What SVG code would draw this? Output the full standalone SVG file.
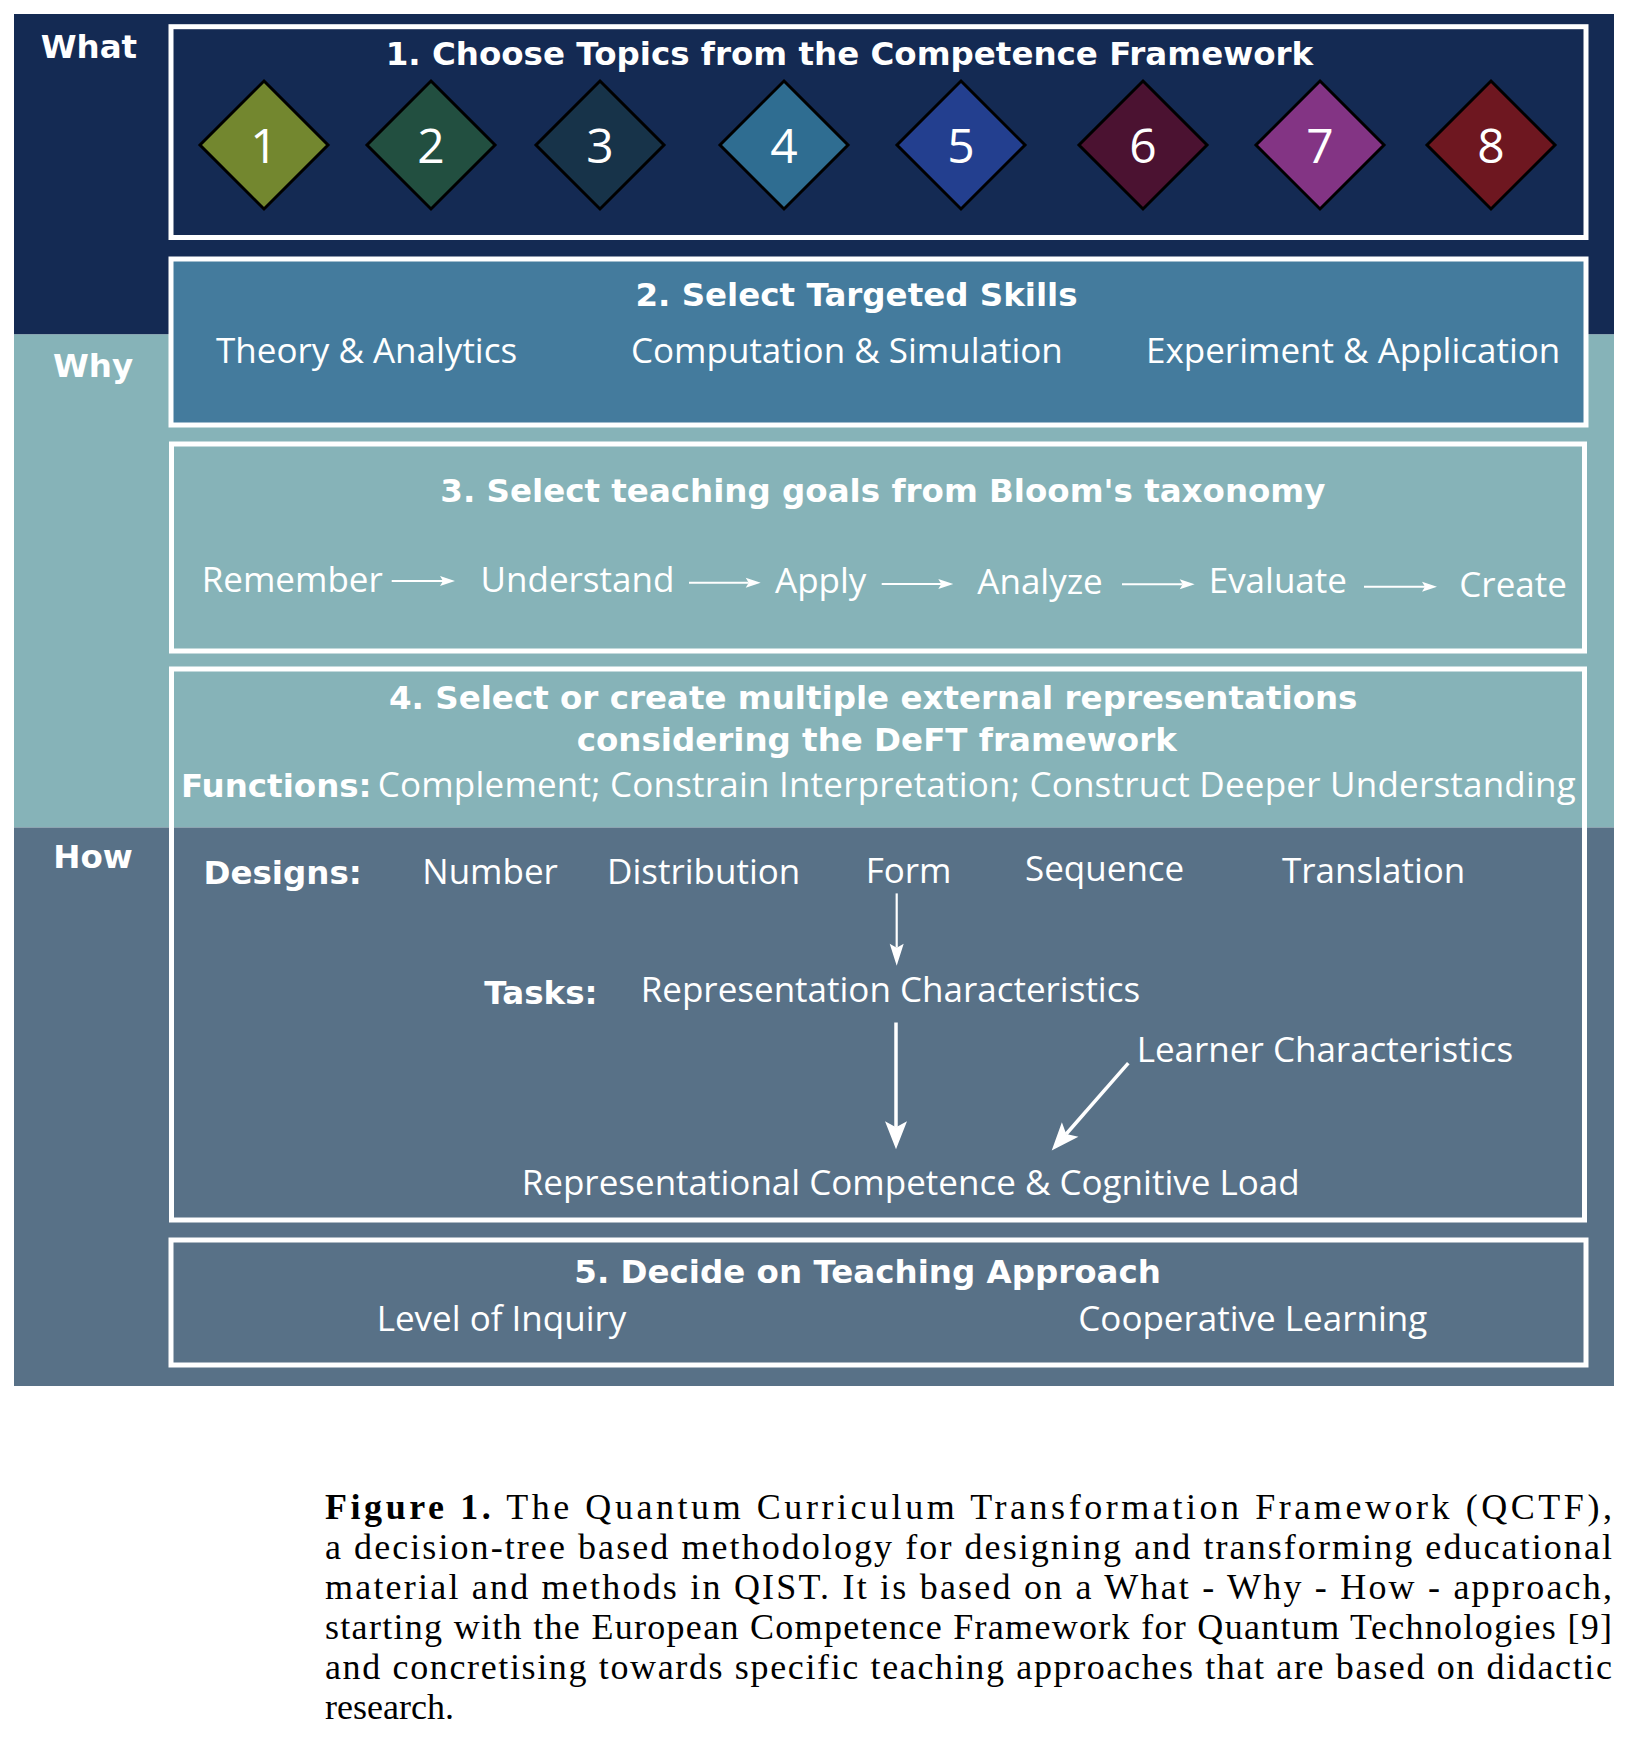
<svg xmlns="http://www.w3.org/2000/svg" width="1632" height="1744" viewBox="0 0 1632 1744">
<style>
.box{fill:none;stroke:#ffffff;stroke-width:5}
.bold{font-family:"DejaVu Sans","Verdana",sans-serif;font-weight:bold;font-size:32.5px;fill:#ffffff}
.reg{font-family:"Open Sans","Liberation Sans",sans-serif;font-size:35px;fill:#ffffff}
.num{font-family:"Open Sans","Liberation Sans",sans-serif;font-size:48px;fill:#ffffff;text-anchor:middle}
.dia{stroke:#000000;stroke-width:3}
.cap{font-family:"Liberation Serif","DejaVu Serif",serif;font-size:36px;fill:#000000}
.ln{stroke:#ffffff;fill:none}
</style>
<defs>
<marker id="ahs" markerUnits="userSpaceOnUse" markerWidth="15" markerHeight="10" refX="3" refY="5" orient="auto" overflow="visible"><path d="M0,0 L15,5 L0,10 L3,5 z" fill="#ffffff"/></marker>
<marker id="ahm" markerUnits="userSpaceOnUse" markerWidth="22" markerHeight="14" refX="4" refY="7" orient="auto" overflow="visible"><path d="M0,0 L22,7 L0,14 L4,7 z" fill="#ffffff"/></marker>
<marker id="ahl" markerUnits="userSpaceOnUse" markerWidth="28" markerHeight="22" refX="6" refY="11" orient="auto" overflow="visible"><path d="M0,0 L28,11 L0,22 L6,11 z" fill="#ffffff"/></marker>
</defs>

<g id="bands">
<rect x="14" y="14" width="1600" height="320.5" fill="#142a53"/>
<rect x="14" y="334.5" width="1600" height="493" fill="#86b3b8"/>
<rect x="14" y="827.5" width="1600" height="558.5" fill="#587187"/>
<text class="bold" x="40.7" y="58.3">What</text>
<text class="bold" x="53" y="376.7">Why</text>
<text class="bold" x="53.3" y="867.7">How</text>
</g>

<g id="step1">
<rect class="box" x="171" y="26.7" width="1415" height="210.8"/>
<text class="bold" x="385.7" y="65">1. Choose Topics from the Competence Framework</text>
<g id="topic1"><polygon class="dia" points="264,81 328,145 264,209 200,145" fill="#73872f"/><text class="num" x="264" y="162.7">1</text></g>
<g id="topic2"><polygon class="dia" points="431,81 495,145 431,209 367,145" fill="#224f40"/><text class="num" x="431" y="162.7">2</text></g>
<g id="topic3"><polygon class="dia" points="600,81 664,145 600,209 536,145" fill="#173349"/><text class="num" x="600" y="162.7">3</text></g>
<g id="topic4"><polygon class="dia" points="784,81 848,145 784,209 720,145" fill="#2f6d91"/><text class="num" x="784" y="162.7">4</text></g>
<g id="topic5"><polygon class="dia" points="961,81 1025,145 961,209 897,145" fill="#233f8f"/><text class="num" x="961" y="162.7">5</text></g>
<g id="topic6"><polygon class="dia" points="1143,81 1207,145 1143,209 1079,145" fill="#4b1231"/><text class="num" x="1143" y="162.7">6</text></g>
<g id="topic7"><polygon class="dia" points="1320,81 1384,145 1320,209 1256,145" fill="#833484"/><text class="num" x="1320" y="162.7">7</text></g>
<g id="topic8"><polygon class="dia" points="1491,81 1555,145 1491,209 1427,145" fill="#6e1720"/><text class="num" x="1491" y="162.7">8</text></g>
</g>

<g id="step2">
<rect class="box" x="171" y="259" width="1415" height="166" style="fill:#447b9d"/>
<text class="bold" x="635.4" y="305.5">2. Select Targeted Skills</text>
<text class="reg" x="216" y="363">Theory &amp; Analytics</text>
<text class="reg" x="631" y="363">Computation &amp; Simulation</text>
<text class="reg" x="1146" y="363">Experiment &amp; Application</text>
</g>

<g id="step3">
<rect class="box" x="171.5" y="444" width="1413" height="207"/>
<text class="bold" x="440.3" y="501.7">3. Select teaching goals from Bloom's taxonomy</text>
<text class="reg" x="201.7" y="591.7">Remember</text>
<text class="reg" x="480.5" y="591.7">Understand</text>
<text class="reg" x="775" y="593.3">Apply</text>
<text class="reg" x="977.3" y="594">Analyze</text>
<text class="reg" x="1208.7" y="593.3">Evaluate</text>
<text class="reg" x="1459.3" y="596.7">Create</text>
</g>

<g id="step4">
<rect class="box" x="171.5" y="669" width="1413" height="551"/>
<text class="bold" x="389" y="709">4. Select or create multiple external representations</text>
<text class="bold" x="576.7" y="751">considering the DeFT framework</text>
<text class="bold" x="181" y="796.7">Functions:</text>
<text class="reg" x="377.7" y="796.7" textLength="1198" lengthAdjust="spacing">Complement; Constrain Interpretation; Construct Deeper Understanding</text>
<text class="bold" x="203.5" y="884">Designs:</text>
<text class="reg" x="422.3" y="884">Number</text>
<text class="reg" x="607" y="884">Distribution</text>
<text class="reg" x="865.7" y="883">Form</text>
<text class="reg" x="1025" y="881.3">Sequence</text>
<text class="reg" x="1282" y="883.3">Translation</text>
<text class="bold" x="484.3" y="1003.6">Tasks:</text>
<text class="reg" x="640.7" y="1002">Representation Characteristics</text>
<text class="reg" x="1136.7" y="1062">Learner Characteristics</text>
<text class="reg" x="521.7" y="1194.5">Representational Competence &amp; Cognitive Load</text>
</g>

<g id="step5">
<rect class="box" x="171" y="1240" width="1415" height="125"/>
<text class="bold" x="574.3" y="1283">5. Decide on Teaching Approach</text>
<text class="reg" x="376.7" y="1330.7">Level of Inquiry</text>
<text class="reg" x="1078.3" y="1330.7">Cooperative Learning</text>
</g>

<g id="connectors">
<line class="ln" stroke-width="2" x1="391.7" y1="581" x2="443" y2="581" marker-end="url(#ahs)"/>
<line class="ln" stroke-width="2" x1="689" y1="582.7" x2="748.7" y2="582.7" marker-end="url(#ahs)"/>
<line class="ln" stroke-width="2" x1="881.7" y1="584" x2="941.3" y2="584" marker-end="url(#ahs)"/>
<line class="ln" stroke-width="2" x1="1122" y1="584.3" x2="1182.7" y2="584.3" marker-end="url(#ahs)"/>
<line class="ln" stroke-width="2" x1="1364" y1="586.7" x2="1425" y2="586.7" marker-end="url(#ahs)"/>
<line class="ln" stroke-width="2.2" x1="896.7" y1="893.4" x2="896.7" y2="947.7" marker-end="url(#ahm)"/>
<line class="ln" stroke-width="3.5" x1="896" y1="1022.5" x2="896" y2="1127.2" marker-end="url(#ahl)"/>
<line class="ln" stroke-width="3.5" x1="1128.3" y1="1063.1" x2="1066.2" y2="1134" marker-end="url(#ahl)"/>
</g>

<g id="caption">
<text class="cap" x="325" y="1519" textLength="1287" lengthAdjust="spacing"><tspan font-weight="bold">Figure 1.</tspan>  The Quantum Curriculum Transformation Framework (QCTF),</text>
<text class="cap" x="325" y="1559" textLength="1287" lengthAdjust="spacing">a decision-tree based methodology for designing and transforming educational</text>
<text class="cap" x="325" y="1599" textLength="1287" lengthAdjust="spacing">material and methods in QIST. It is based on a What - Why - How - approach,</text>
<text class="cap" x="325" y="1639" textLength="1287" lengthAdjust="spacing">starting with the European Competence Framework for Quantum Technologies [9]</text>
<text class="cap" x="325" y="1679" textLength="1287" lengthAdjust="spacing">and concretising towards specific teaching approaches that are based on didactic</text>
<text class="cap" x="325" y="1719">research.</text>
</g>
</svg>
